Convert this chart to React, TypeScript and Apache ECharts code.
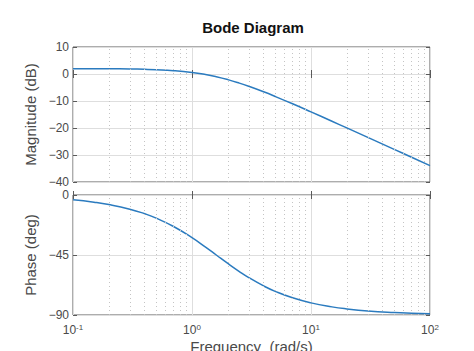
import React, { useEffect, useRef } from 'react';
import * as echarts from 'echarts';

const freq = [0.1, 0.15, 0.2, 0.3, 0.4, 0.5, 0.7, 1, 1.3, 1.6, 2, 2.5, 3, 4, 5, 7, 10, 15, 20, 30, 50, 70, 100];
const magDb = [1.98, 1.96, 1.93, 1.85, 1.74, 1.6, 1.24, 0.57, -0.2, -1.01, -2.09, -3.37, -4.55, -6.6, -8.32, -11.04, -14.03, -17.49, -19.97, -23.47, -27.9, -30.82, -33.92];
const phaseDeg = [-3.58, -5.36, -7.13, -10.62, -14.04, -17.35, -23.63, -32.0, -39.09, -45.0, -51.34, -57.38, -61.93, -68.2, -72.26, -77.12, -80.91, -83.91, -85.43, -86.95, -88.17, -88.69, -89.08];
const minorFreqs = [0.2, 0.3, 0.4, 0.5, 0.6, 0.7, 0.8, 0.9, 2, 3, 4, 5, 6, 7, 8, 9, 20, 30, 40, 50, 60, 70, 80, 90];

const FONT = '"Liberation Sans", Arial, Helvetica, sans-serif';
const LABEL = '#4a4a4a';
const BORDER = '#5a5a5a';
const BLUE = '#2b7bbf';

export default function App() {
  const ref = useRef<HTMLDivElement>(null);
  useEffect(() => {
    const chart = echarts.init(ref.current!, null, { renderer: 'svg' });
    const minorLines = {
      silent: true,
      symbol: ['none', 'none'],
      label: { show: false },
      lineStyle: { type: [1, 3], color: '#c4c4c4', width: 1 },
      data: minorFreqs.map((f) => ({ xAxis: f })),
    };
    const tick = { show: true, inside: true, length: 4, lineStyle: { color: BORDER } };
    const xCommon = {
      type: 'log',
      logBase: 10,
      min: 0.1,
      max: 100,
      axisLine: { show: false },
      axisTick: tick,
      splitLine: { show: true, lineStyle: { color: '#dedede', width: 1 } },
    };
    const xTop = {
      type: 'log',
      logBase: 10,
      min: 0.1,
      max: 100,
      position: 'top',
      axisLine: { show: false },
      axisTick: tick,
      axisLabel: { show: false },
      splitLine: { show: false },
    };
    const yCommon = {
      type: 'value',
      nameLocation: 'middle',
      nameTextStyle: { fontFamily: FONT, fontSize: 15, color: LABEL },
      axisLine: { show: false },
      axisTick: tick,
      axisLabel: {
        fontFamily: FONT,
        fontSize: 12,
        lineHeight: 12,
        color: LABEL,
        margin: 4,
        formatter: (v: number) => String(v).replace('-', '\u2212'),
      },
      splitLine: { show: true, lineStyle: { color: '#dedede', width: 1 } },
    };
    const yRight = {
      type: 'value',
      position: 'right',
      axisLine: { show: false },
      axisTick: tick,
      axisLabel: { show: false },
      splitLine: { show: false },
    };
    const gridCommon = {
      left: 73,
      right: 44,
      show: true,
      borderColor: BORDER,
      borderWidth: 1,
      backgroundColor: '#fff',
      containLabel: false,
      outerBoundsMode: 'none',
    };
    chart.setOption({
      animation: false,
      backgroundColor: '#fff',
      title: {
        text: 'Bode Diagram',
        left: 248,
        top: 15,
        textAlign: 'center',
        textStyle: { fontFamily: FONT, fontSize: 15, fontWeight: 'bold', color: '#111' },
      },
      grid: [
        { ...gridCommon, top: 47, height: 135 },
        { ...gridCommon, top: 195, height: 120 },
      ],
      xAxis: [
        { ...xCommon, gridIndex: 0, axisLabel: { show: false } },
        {
          ...xCommon,
          gridIndex: 1,
          name: 'Frequency  (rad/s)',
          nameLocation: 'middle',
          nameGap: 24,
          nameTextStyle: { fontFamily: FONT, fontSize: 15, color: LABEL, verticalAlign: 'top' },
          axisLabel: {
            margin: 8,
            formatter: (v: number) => `{b|10}{s|${Math.round(Math.log10(v))}}`,
            rich: {
              b: { fontFamily: FONT, fontSize: 12, color: LABEL },
              s: { fontFamily: FONT, fontSize: 8, color: LABEL, padding: [0, 0, 6, 0] },
            },
          },
        },
        { ...xTop, gridIndex: 0 },
        { ...xTop, gridIndex: 1 },
      ],
      yAxis: [
        { ...yCommon, gridIndex: 0, min: -40, max: 10, interval: 10, name: 'Magnitude (dB)', nameGap: 26 },
        { ...yCommon, gridIndex: 1, min: -90, max: 0, interval: 45, name: 'Phase (deg)', nameGap: 26 },
        { ...yRight, gridIndex: 0, min: -40, max: 10, interval: 10 },
        { ...yRight, gridIndex: 1, min: -90, max: 0, interval: 45 },
      ],
      series: [
        {
          type: 'line',
          xAxisIndex: 0,
          yAxisIndex: 0,
          data: freq.map((f, i) => [f, magDb[i]]),
          showSymbol: false,
          smooth: true,
          lineStyle: { color: BLUE, width: 1.5 },
          markLine: minorLines,
        },
        {
          type: 'line',
          xAxisIndex: 1,
          yAxisIndex: 1,
          data: freq.map((f, i) => [f, phaseDeg[i]]),
          showSymbol: false,
          smooth: true,
          lineStyle: { color: BLUE, width: 1.5 },
          markLine: minorLines,
        },
      ],
    });
    return () => chart.dispose();
  }, []);
  return <div ref={ref} style={{ position: 'fixed', left: 0, top: 0, width: 474, height: 351, background: '#fff' }} />;
}
